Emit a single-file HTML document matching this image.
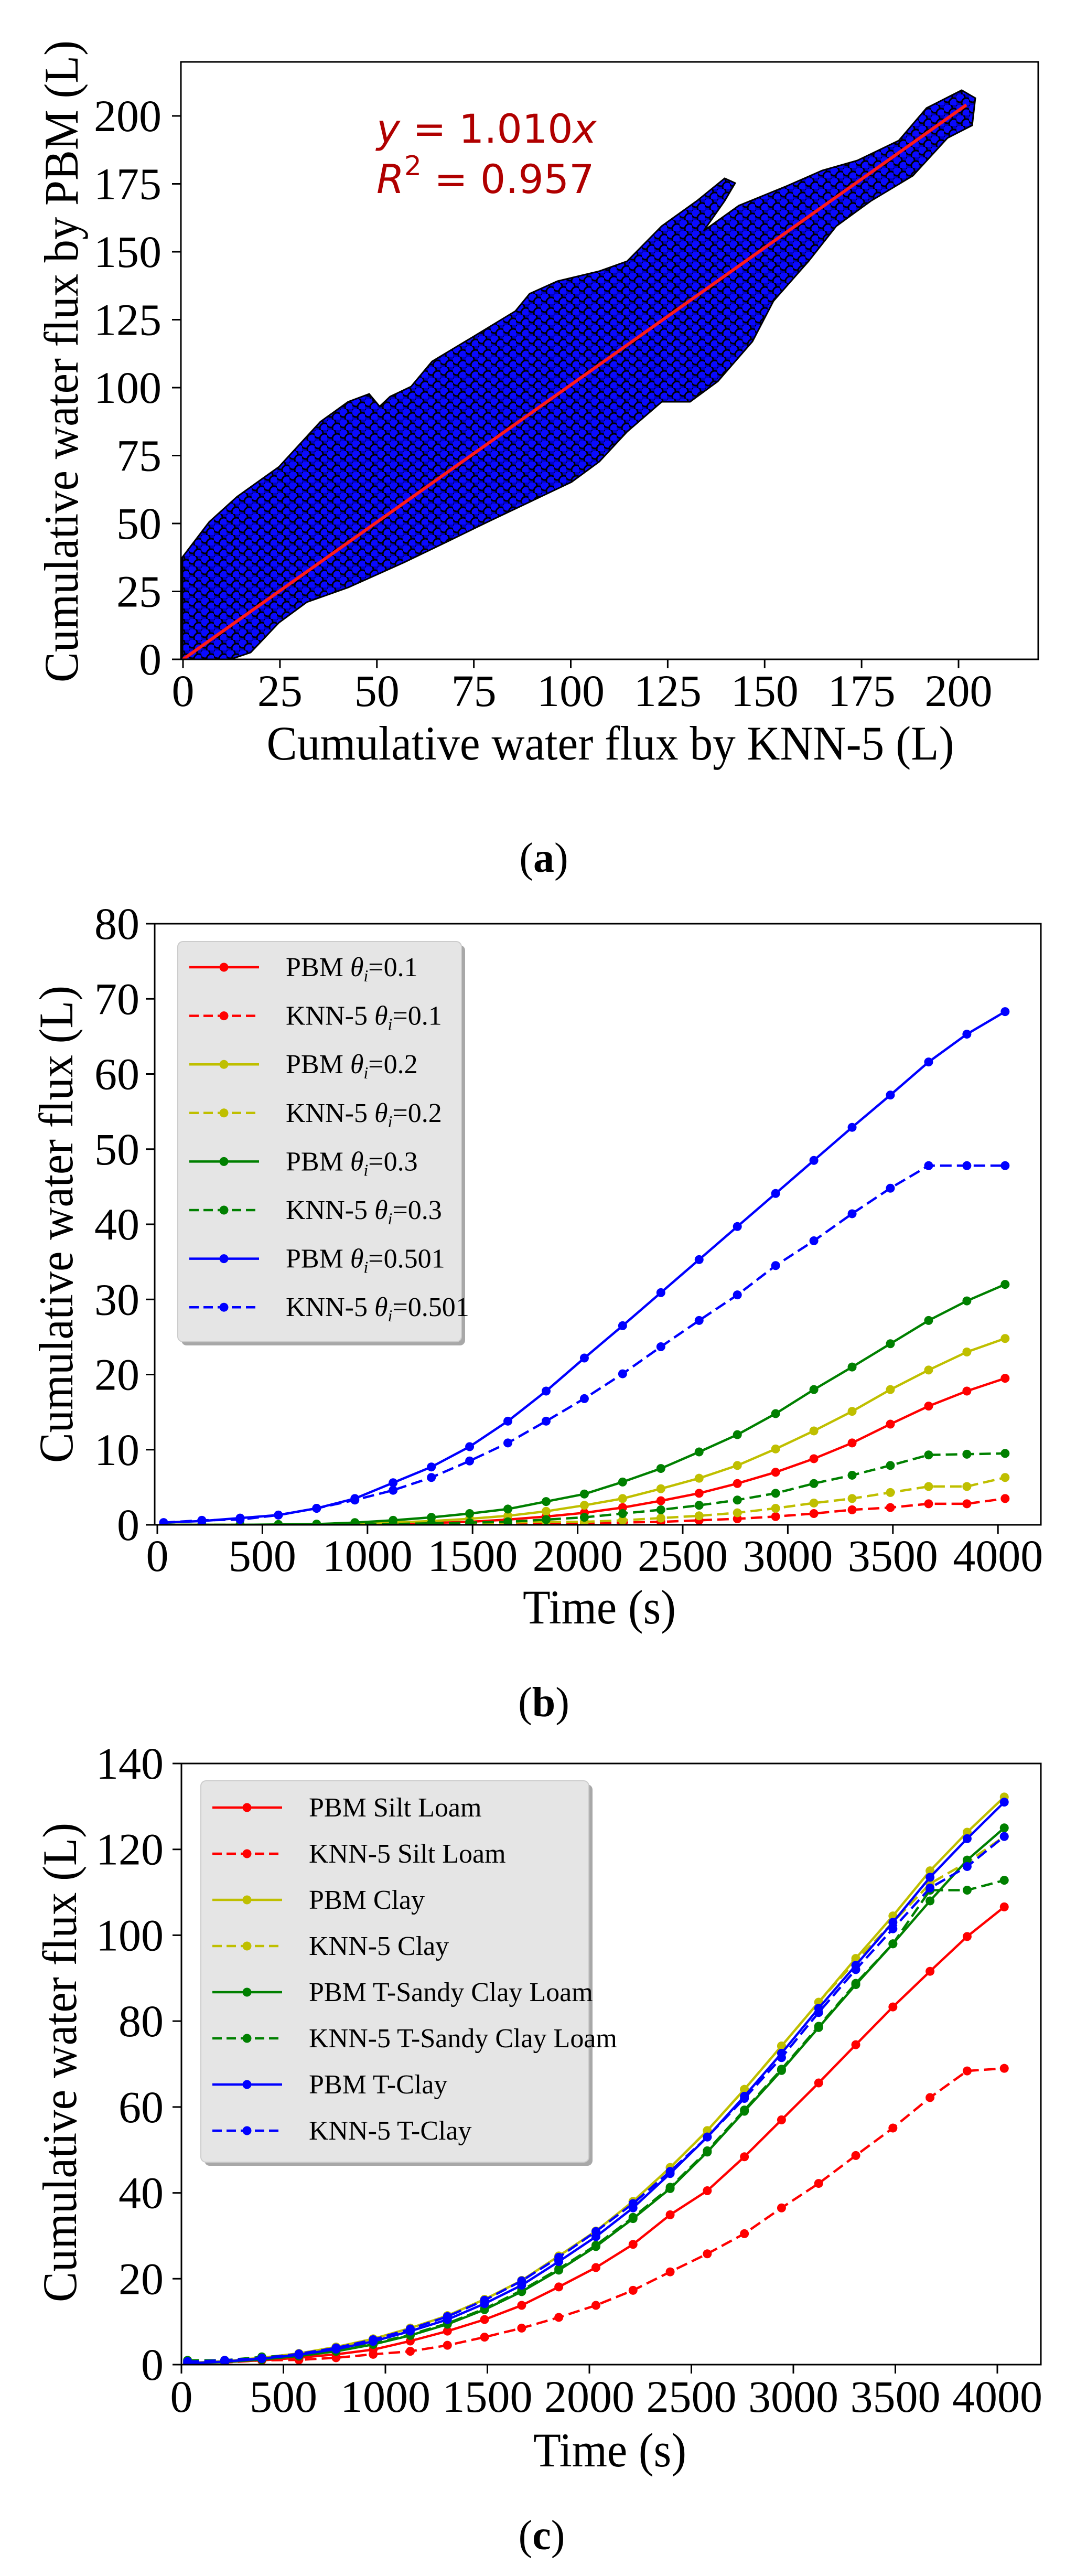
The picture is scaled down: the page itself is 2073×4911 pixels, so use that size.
<!DOCTYPE html>
<html><head><meta charset="utf-8">
<style>
html,body{margin:0;padding:0;background:#fff;}
svg{display:block;}
text{font-family:"Liberation Serif",serif;fill:#000;}
.tk{font-size:86px;}
.lab{font-size:92px;}
.lg{font-size:52px;}
</style></head>
<body>
<svg id="s" width="2073" height="4911" viewBox="0 0 2073 4911" xmlns="http://www.w3.org/2000/svg">
<defs>
<pattern id="dots" width="24" height="20" patternUnits="userSpaceOnUse">
<rect width="24" height="20" fill="#0000c8"/>
<circle cx="7" cy="6" r="9" fill="#0a0aff" stroke="#000" stroke-width="3"/>
<circle cx="19" cy="16" r="9" fill="#0a0aff" stroke="#000" stroke-width="3"/>
</pattern>
<clipPath id="ca"><rect x="345" y="118" width="1635" height="1139"/></clipPath>
</defs>
<rect width="2073" height="4911" fill="#fff"/>

<!-- ===== Panel (a) ===== -->
<g clip-path="url(#ca)">
<polygon fill="url(#dots)" stroke="#000" stroke-width="3" points="348,1062 399,995 452,947 532,890 611,804 664,766 704,751 724,775 744,756 784,737 824,689 904,641 983,593 1010,560 1063,536 1143,517 1196,498 1262,431 1329,383 1382,340 1402,349 1382,383 1342,440 1409,392 1502,354 1568,325 1635,306 1714,268 1767,206 1834,172 1860,187 1854,239 1807,263 1741,335 1661,383 1595,431 1542,498 1475,574 1435,651 1369,727 1316,766 1262,766 1196,823 1143,880 1090,919 1010,957 930,995 850,1034 771,1072 664,1120 585,1148 532,1187 478,1244 439,1257 348,1257"/>
<line x1="349" y1="1257" x2="1843" y2="200" stroke="#ff1a1a" stroke-width="6"/>
</g>
<rect x="345" y="118" width="1635" height="1139" fill="none" stroke="#000" stroke-width="3"/>
<g id="aticks"></g>
<text x="718" y="272" font-size="76" style="fill:#b00000;font-family:'DejaVu Sans',sans-serif"><tspan font-style="italic">y</tspan> = 1.010<tspan font-style="italic">x</tspan></text>
<text x="718" y="368" font-size="76" style="fill:#b00000;font-family:'DejaVu Sans',sans-serif"><tspan font-style="italic">R</tspan><tspan font-size="52" dy="-34">2</tspan><tspan dy="34"> = 0.957</tspan></text>
<text class="lab" x="1164" y="1448" text-anchor="middle" textLength="1311" lengthAdjust="spacingAndGlyphs">Cumulative water flux by KNN-5 (L)</text>
<text class="lab" transform="translate(148,689) rotate(-90)" text-anchor="middle" textLength="1224" lengthAdjust="spacingAndGlyphs">Cumulative water flux by PBM (L)</text>
<text x="1037" y="1662" text-anchor="middle" font-size="80">(<tspan font-weight="bold">a</tspan>)</text>

<!-- ===== Panel (b) ===== -->
<g id="pb"></g>
<text class="lab" x="1143" y="3095" text-anchor="middle" textLength="292" lengthAdjust="spacingAndGlyphs">Time (s)</text>
<text class="lab" transform="translate(138,2334) rotate(-90)" text-anchor="middle" textLength="910" lengthAdjust="spacingAndGlyphs">Cumulative water flux (L)</text>
<text x="1037" y="3272" text-anchor="middle" font-size="80">(<tspan font-weight="bold">b</tspan>)</text>

<!-- ===== Panel (c) ===== -->
<g id="pc"></g>
<text class="lab" x="1163" y="4702" text-anchor="middle" textLength="292" lengthAdjust="spacingAndGlyphs">Time (s)</text>
<text class="lab" transform="translate(145,3932) rotate(-90)" text-anchor="middle" textLength="914" lengthAdjust="spacingAndGlyphs">Cumulative water flux (L)</text>
<text x="1033" y="4860" text-anchor="middle" font-size="80">(<tspan font-weight="bold">c</tspan>)</text>
</svg>
<script>
var NS="http://www.w3.org/2000/svg";
function el(p,n,a,txt){var e=document.createElementNS(NS,n);for(var k in a)e.setAttribute(k,a[k]);if(txt!=null)e.textContent=txt;p.appendChild(e);return e;}
(function(){
 var g=document.getElementById('aticks');
 for(var v=0;v<=200;v+=25){
  var x=349+v*7.395, y=1257-v*5.18;
  el(g,'line',{x1:x,y1:1257,x2:x,y2:1274,stroke:'#000','stroke-width':3});
  el(g,'text',{x:x,y:1346,'text-anchor':'middle','class':'tk'},String(v));
  el(g,'line',{x1:328,y1:y,x2:345,y2:y,stroke:'#000','stroke-width':3});
  el(g,'text',{x:308,y:y+29,'text-anchor':'end','class':'tk'},String(v));
 }
})();
var T=[];for(var k=0;k<23;k++)T.push(30+182*k);
function panel(gid,cfg){
 var g=document.getElementById(gid);
 var L=cfg.L,R=cfg.R,Tp=cfg.T,B=cfg.B;
 function X(t){return cfg.x0+t*cfg.sx;}
 function Y(v){return B-v*(B-Tp)/cfg.ymax;}
 var clip=el(g,'clipPath',{id:gid+'c'});el(clip,'rect',{x:L,y:Tp-10,width:R-L+10,height:B-Tp+10});
 var dg=el(g,'g',{'clip-path':'url(#'+gid+'c)'});
 cfg.series.forEach(function(s){
  var pts=s.v.map(function(v,i){return X(T[i]).toFixed(1)+','+Y(v).toFixed(1);}).join(' ');
  var a={points:pts,fill:'none',stroke:s.c,'stroke-width':4.5,'stroke-linejoin':'round'};
  if(s.d)a['stroke-dasharray']='22,10';
  el(dg,'polyline',a);
  s.v.forEach(function(v,i){el(dg,'circle',{cx:X(T[i]),cy:Y(v),r:8.5,fill:s.c});});
 });
 el(g,'rect',{x:L,y:Tp,width:R-L,height:B-Tp,fill:'none',stroke:'#000','stroke-width':3});
 for(var t=0;t<=4000;t+=500){var x=X(t);
  el(g,'line',{x1:x,y1:B,x2:x,y2:B+17,stroke:'#000','stroke-width':3});
  el(g,'text',{x:x,y:cfg.xb,'text-anchor':'middle','class':'tk'},String(t));}
 for(var v=0;v<=cfg.ymax;v+=cfg.ystep){var y=Y(v);
  el(g,'line',{x1:L-17,y1:y,x2:L,y2:y,stroke:'#000','stroke-width':3});
  el(g,'text',{x:cfg.yr,y:y+29,'text-anchor':'end','class':'tk'},String(v));}
 var lg=cfg.lg;
 el(g,'rect',{x:lg.x+7,y:lg.y+7,width:lg.w,height:lg.h,rx:10,fill:'#a8a8a8'});
 el(g,'rect',{x:lg.x,y:lg.y,width:lg.w,height:lg.h,rx:10,fill:'#e5e5e5',stroke:'#cccccc','stroke-width':2});
 cfg.series.forEach(function(s,i){
  var y=lg.y0+i*lg.dy;
  var a={x1:lg.lx,y1:y,x2:lg.lx+133,y2:y,stroke:s.c,'stroke-width':4.5};
  if(s.d)a['stroke-dasharray']='18,9';
  el(g,'line',a);
  el(g,'circle',{cx:lg.lx+66,cy:y,r:8.5,fill:s.c});
  var t=el(g,'text',{x:lg.tx,y:y+17,'class':'lg'});
  if(s.th){
   el(t,'tspan',{},s.n+' ');
   el(t,'tspan',{'font-style':'italic'},'θ');
   el(t,'tspan',{'font-style':'italic','font-size':'32',dy:'10'},'i');
   el(t,'tspan',{dy:'-10'},'='+s.th);
  } else t.textContent=s.n;
 });
}
var c={r:'#ff0000',y:'#bfbf00',g:'#008000',b:'#0000ff'};
panel('pb',{L:295,R:1985,T:1761,B:2907,x0:300,sx:0.4008,ymax:80,ystep:10,xb:2995,yr:266,
 lg:{x:339,y:1795,w:541,h:763,y0:1844,dy:92.6,lx:361,tx:545},
 series:[
 {n:'PBM',th:'0.1',c:c.r,v:[0,0,0,0,0,0,0.05,0.25,0.4,0.7,1.1,1.6,2.3,3.2,4.2,5.5,7.0,8.8,10.9,13.4,15.8,17.8,19.5]},
 {n:'KNN-5',th:'0.1',c:c.r,d:1,v:[0,0,0,0,0,0,0,0,0.05,0.1,0.2,0.25,0.3,0.4,0.6,0.8,1.1,1.5,2.0,2.3,2.8,2.8,3.5]},
 {n:'PBM',th:'0.2',c:c.y,v:[0,0,0,0,0,0.1,0.3,0.5,0.8,1.2,1.8,2.6,3.5,4.8,6.2,7.9,10.1,12.5,15.1,18.0,20.6,23.0,24.8]},
 {n:'KNN-5',th:'0.2',c:c.y,d:1,v:[0,0,0,0,0,0,0.05,0.1,0.2,0.3,0.4,0.4,0.6,0.9,1.2,1.6,2.2,2.9,3.5,4.3,5.1,5.1,6.3]},
 {n:'PBM',th:'0.3',c:c.g,v:[0,0,0,0.05,0.1,0.3,0.6,1.0,1.5,2.1,3.1,4.1,5.7,7.5,9.7,12.0,14.8,18.0,21.0,24.1,27.2,29.8,32.0]},
 {n:'KNN-5',th:'0.3',c:c.g,d:1,v:[0,0,0,0,0,0.05,0.1,0.2,0.3,0.4,0.7,1.0,1.5,2.0,2.6,3.3,4.2,5.5,6.6,7.9,9.3,9.4,9.5]},
 {n:'PBM',th:'0.501',c:c.b,v:[0.3,0.5,0.9,1.3,2.2,3.5,5.6,7.7,10.4,13.8,17.8,22.2,26.5,30.9,35.3,39.7,44.1,48.5,52.9,57.2,61.6,65.3,68.3]},
 {n:'KNN-5',th:'0.501',c:c.b,d:1,v:[0.3,0.6,0.7,1.3,2.2,3.3,4.6,6.3,8.5,10.9,13.8,16.8,20.1,23.7,27.2,30.6,34.5,37.8,41.4,44.8,47.8,47.8,47.8]}
 ]});
panel('pc',{L:346,R:1985,T:3362,B:4508,x0:346,sx:0.389,ymax:140,ystep:20,xb:4598,yr:312,
 lg:{x:383,y:3395,w:740,h:727,y0:3446,dy:88,lx:405,tx:589},
 series:[
 {n:'PBM Silt Loam',c:c.r,v:[0.3,0.6,1.0,1.6,2.4,3.5,5.5,7.8,10.5,13.8,18.1,22.6,28.0,34.9,40.5,48.4,57.0,65.6,74.5,83.3,91.6,99.7,106.6]},
 {n:'KNN-5 Silt Loam',c:c.r,d:1,v:[0.5,0.5,1.0,1.1,1.6,2.4,3.1,4.5,6.4,8.5,11.0,13.8,17.3,21.6,25.8,30.5,36.5,42.2,48.7,55.1,62.2,68.4,69.0]},
 {n:'PBM Clay',c:c.y,v:[0.4,0.8,1.6,2.6,4.1,6.0,8.5,11.4,15.2,19.6,25.3,31.1,38.0,45.9,54.5,64.1,74.2,84.4,94.6,104.5,115,124,132.2]},
 {n:'KNN-5 Clay',c:c.y,d:1,v:[0.6,1.0,1.6,2.6,4.1,6.0,8.5,11.4,15.2,19.6,25.3,31.1,38.0,45.9,54.5,64.1,74.2,84.4,94.0,103,112,117,123]},
 {n:'PBM T-Sandy Clay Loam',c:c.g,v:[0.3,0.6,1.2,2.0,3.1,4.7,6.8,9.4,12.8,17.0,22.0,27.5,34.0,41.0,49.5,59.0,68.5,78.5,88.5,98.0,108.0,117.5,125.0]},
 {n:'KNN-5 T-Sandy Clay Loam',c:c.g,d:1,v:[1.0,1.0,1.8,2.2,3.3,4.9,7.0,9.6,13.0,17.3,22.3,27.8,34.3,41.3,49.8,59.3,68.8,78.8,88.8,98.0,110.5,110.5,112.8]},
 {n:'PBM T-Clay',c:c.b,v:[0.3,0.7,1.4,2.3,3.6,5.4,7.8,10.5,14.2,18.5,24.0,29.8,36.5,44.5,53.0,62.5,72.5,83.0,93.0,103.0,113.5,122.5,131.0]},
 {n:'KNN-5 T-Clay',c:c.b,d:1,v:[0.7,1.0,1.5,2.5,3.9,5.8,8.3,11.2,15.0,19.5,25.0,31.0,37.5,45.0,53.0,62.0,71.5,82.0,92.0,101.5,111.0,116.0,123.0]}
 ]});
</script>
</body></html>
